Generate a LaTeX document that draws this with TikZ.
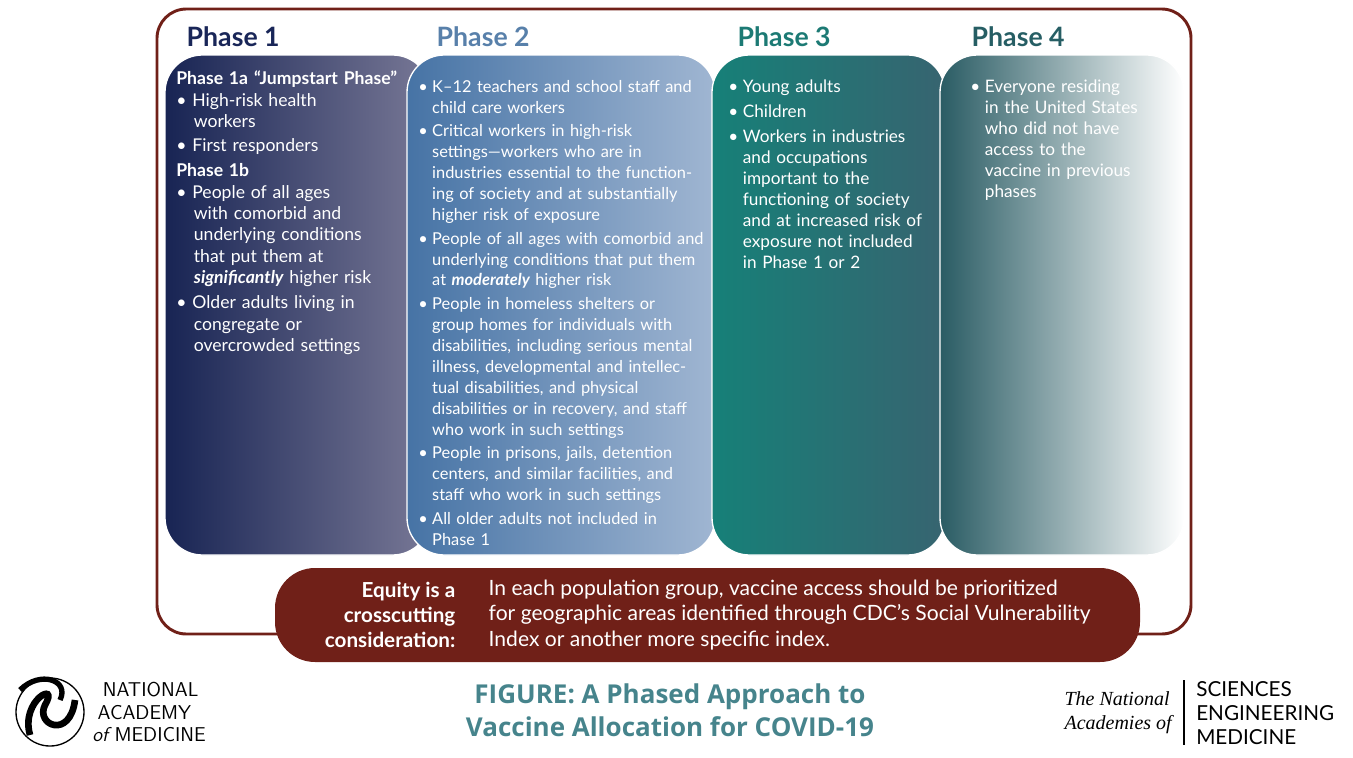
\documentclass[tikz,border=0pt]{standalone}
\usepackage{fontspec}
\setmainfont{Lato}
\newfontfamily\capfont{Open Sans}
\newfontfamily\serifit{Liberation Serif}
\definecolor{brn}{RGB}{112,32,24}
\definecolor{navy}{RGB}{25,38,88}
\definecolor{ph2}{RGB}{88,128,170}
\definecolor{ph3}{RGB}{28,122,116}
\definecolor{ph4}{RGB}{38,94,100}
\definecolor{capc}{RGB}{70,132,140}
\newcommand\bitem{\par\noindent\hangindent=0.85em\hangafter=1\makebox[0.85em][l]{\textbullet}}
\tikzset{
 box/.style={rounded corners=28pt, draw=white, line width=1pt},
 head/.style={font=\fontsize{20}{23}\selectfont\bfseries, anchor=west},
 body/.style={anchor=north west, text=white, align=left, inner sep=0pt,
   font=\fontsize{12.3}{15.7}\selectfont},
}
\begin{document}
\begin{tikzpicture}[x=0.75pt,y=-0.75pt]
\useasboundingbox (0,0) rectangle (1353,757);
\draw[brn, line width=2.2pt, rounded corners=22pt] (157,9) rectangle (1191,634);
\shade[box, left color=navy!95!black, right color={rgb,255:red,120;green,120;blue,150}] (165,55) rectangle (430,555);
\shade[box, left color={rgb,255:red,70;green,115;blue,165}, right color={rgb,255:red,160;green,182;blue,210}] (407,55) rectangle (715,555);
\shade[box, left color={rgb,255:red,22;green,128;blue,120}, right color={rgb,255:red,55;green,100;blue,112}] (712,55) rectangle (945,555);
\shade[box, left color={rgb,255:red,42;green,92;blue,100}, right color=white] (940,55) rectangle (1184,555);
\node[head, text=navy] (h1) at (182,37) {Phase 1};
\node[head, text=ph2] (h2) at (432,37) {Phase 2};
\node[head, text=ph3] (h3) at (733,37) {Phase 3};
\node[head, text=ph4] (h4) at (967,37) {Phase 4};
\node[body, text width=235pt, font=\fontsize{13.2}{16}\selectfont] (t1) at (176,71) {%
{\bfseries Phase 1a “Jumpstart Phase”}\par
\hspace*{0pt}\textbullet\ High-risk health\par\hspace*{1.0em}workers\par
\vspace{2pt}\textbullet\ First responders\par\vspace{3pt}
{\bfseries Phase 1b}\par
\textbullet\ People of all ages\par\hspace*{1.0em}with comorbid and\par\hspace*{1.0em}underlying conditions\par\hspace*{1.0em}that put them at\par\hspace*{1.0em}{\bfseries\itshape significantly} higher risk\par
\vspace{3pt}\textbullet\ Older adults living in\par\hspace*{1.0em}congregate or\par\hspace*{1.0em}overcrowded settings\par};
\node[body, text width=230pt] (t2) at (418,71) {%
\bitem K–12 teachers and school staff and\newline child care workers
\vspace{2pt}\bitem Critical workers in high-risk\newline settings—workers who are in\newline industries essential to the function-\newline ing of society and at substantially\newline higher risk of exposure
\vspace{2pt}\bitem People of all ages with comorbid and\newline underlying conditions that put them\newline at {\bfseries\itshape moderately} higher risk
\vspace{2pt}\bitem People in homeless shelters or\newline group homes for individuals with\newline disabilities, including serious mental\newline illness, developmental and intellec-\newline tual disabilities, and physical\newline disabilities or in recovery, and staff\newline who work in such settings
\vspace{2pt}\bitem People in prisons, jails, detention\newline centers, and similar facilities, and\newline staff who work in such settings
\vspace{2pt}\bitem All older adults not included in\newline Phase 1\par};
\node[body, text width=160pt, font=\fontsize{12.9}{15.8}\selectfont] (t3) at (728,71) {%
\bitem Young adults
\vspace{3pt}\bitem Children
\vspace{3pt}\bitem Workers in industries\newline and occupations\newline important to the\newline functioning of society\newline and at increased risk of\newline exposure not included\newline in Phase 1 or 2\par};
\node[body, text width=150pt, font=\fontsize{12.9}{15.8}\selectfont] (t4) at (970,71) {%
\bitem Everyone residing\newline in the United States\newline who did not have\newline access to the\newline vaccine in previous\newline phases\par};
\fill[brn, rounded corners=30pt] (275,568) rectangle (1140,662);
\node[anchor=east, text=white, align=right, font=\fontsize{15.5}{19}\selectfont\bfseries] (eq) at (460,615) {Equity is a\\crosscutting\\consideration:};
\node[anchor=west, text=white, align=left, font=\fontsize{15.8}{19}\selectfont] (eqt) at (484,615) {In each population group, vaccine access should be prioritized\\for geographic areas identified through CDC’s Social Vulnerability\\Index or another more specific index.};
\node[text=capc, align=center, font=\capfont\fontsize{19.5}{25}\selectfont\bfseries] (cap) at (670,710) {FIGURE: A Phased Approach to\\Vaccine Allocation for COVID-19};
\draw[line width=1pt] (50,712) circle (34);
\draw[line width=5pt] (30,735) .. controls (20,700) and (60,680) .. (45,705) .. controls (35,725) and (70,740) .. (75,700);
\draw[line width=4pt] (20,690) .. controls (40,670) and (70,680) .. (60,700);
\node[anchor=west, align=left, font=\fontsize{15}{17}\selectfont\sffamily, inner sep=0pt] (nam) at (92,712) {\hspace*{8pt}NATIONAL\\\hspace*{4pt}ACADEMY\\{\itshape of} MEDICINE};
\node[anchor=east, align=left, font=\serifit\itshape\fontsize{15}{18}\selectfont, inner sep=0pt] (nas) at (1172,713) {The National\\Academies of};
\draw[line width=1pt] (1184,680) -- (1184,745);
\node[anchor=west, align=left, font=\fontsize{15.5}{18}\selectfont, inner sep=0pt] (sem) at (1196,713) {SCIENCES\\ENGINEERING\\MEDICINE};
\end{tikzpicture}
\end{document}
